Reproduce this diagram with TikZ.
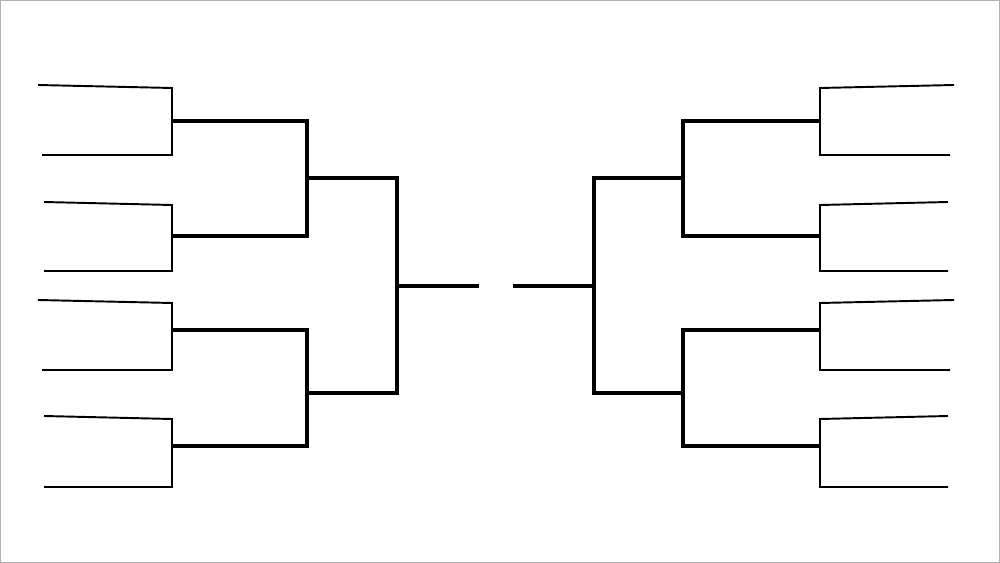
\documentclass[tikz,border=0pt]{standalone}
\begin{document}
\begin{tikzpicture}[x=0.02cm, y=-0.02cm, line join=miter]
\tikzset{seed/.style={line width=1.1pt}, round2/.style={line width=2pt}, final/.style={line width=2.8pt}}
\useasboundingbox (0,0) rectangle (1000,563);
\draw[gray!60, line width=0.6pt] (0.5,0.5) rectangle (999.5,562.5);
% first round, left
\foreach \n/\ta/\tb/\bo/\mi/\la/\lb in {1/85/88/155/121/38/42, 2/202/205/271/236/44/44, 3/300/303/370/330/38/42, 4/416/419/487/446/44/44}
{
    \coordinate (lt\n) at (\la,\ta);
    \coordinate (ltc\n) at (172,\tb);
    \coordinate (lbc\n) at (172,\bo);
    \coordinate (lb\n) at (\lb,\bo);
    \coordinate (lm\n) at (172,\mi);
    \draw[seed] (lt\n)--(ltc\n)--(lbc\n)--(lb\n);
}
% first round, right
\foreach \n/\ta/\tb/\bo/\mi/\ra/\rb in {1/85/88/155/121/954/950, 2/202/205/271/236/948/948, 3/300/303/370/330/954/950, 4/416/419/487/446/948/948}
{
    \coordinate (rt\n) at (\ra,\ta);
    \coordinate (rtc\n) at (820,\tb);
    \coordinate (rbc\n) at (820,\bo);
    \coordinate (rb\n) at (\rb,\bo);
    \coordinate (rm\n) at (820,\mi);
    \draw[seed] (rt\n)--(rtc\n)--(rbc\n)--(rb\n);
}
% quarter and semi
\coordinate (lq1) at (307,178);
\coordinate (lq2) at (307,393);
\coordinate (rq1) at (683,178);
\coordinate (rq2) at (683,393);
\coordinate (ls) at (397,286);
\coordinate (rs) at (594,286);
\coordinate (lend) at (479,286);
\coordinate (rend) at (513,286);
\draw[round2] (lm1)-|(lq1)|-(lm2);
\draw[round2] (lm3)-|(lq2)|-(lm4);
\draw[round2] (rm1)-|(rq1)|-(rm2);
\draw[round2] (rm3)-|(rq2)|-(rm4);
\draw[round2] (lq1)-|(ls)|-(lq2);
\draw[round2] (rq1)-|(rs)|-(rq2);
\draw[final] (ls)--(lend);
\draw[final] (rs)--(rend);
\end{tikzpicture}
\end{document}
